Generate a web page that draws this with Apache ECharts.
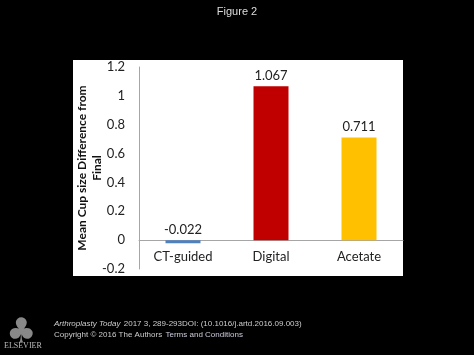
<!DOCTYPE html>
<html><head><meta charset="utf-8">
<script src="https://cdn.jsdelivr.net/npm/echarts@6/dist/echarts.min.js"></script>
<style>html,body{margin:0;padding:0;background:#000}#c{width:474px;height:355px}</style>
</head><body><div id="c"></div>
<script>
const categories = ['CT-guided', 'Digital', 'Acetate'];
const values = [-0.022, 1.067, 0.711];
const labels = ['-0.022', '1.067', '0.711'];
const barColors = ['#4F81BD', '#C00000', '#FFC000'];
const yTicks = {min: -0.2, max: 1.2, interval: 0.2};

const chart = echarts.init(document.getElementById('c'));
const font = 'Lato, "Open Sans", sans-serif';
chart.setOption({
  backgroundColor: '#000',
  animation: false,
  graphic: [
    {type: 'rect', z: -10, shape: {x: 73, y: 60, width: 330, height: 216}, style: {fill: '#fff'}},
    {type: 'text', left: 'center', top: 6, style: {text: 'Figure 2', fill: '#ddd', font: '11px "Liberation Sans", Arial, sans-serif'}},
    {type: 'text', left: 6, top: 316, style: {text: '\u2663', fill: '#888', font: '34px "DejaVu Sans"'}},
    {type: 'text', left: 4, top: 342, style: {text: 'ELSEVIER', fill: '#bbb', font: '8px "Liberation Serif", serif'}},
    {type: 'text', left: 54, top: 318, style: {
      rich: {i: {font: 'italic 8px "Liberation Sans", Arial', fill: '#ccc'}, n: {font: '8px "Liberation Sans", Arial', fill: '#ccc'}},
      text: '{i|Arthroplasty Today} {n|2017 3, 289-293DOI: (10.1016/j.artd.2016.09.003)}'}},
    {type: 'text', left: 54, top: 329, style: {
      rich: {n: {font: '8px "Liberation Sans", Arial', fill: '#ccc'}, u: {font: '8px "Liberation Sans", Arial', fill: '#ccd', textDecoration: 'underline'}},
      text: '{n|Copyright \u00a9 2016 The Authors} {u|Terms and Conditions}'}}
  ],
  grid: {left: 139, right: 71, top: 67, bottom: 86, containLabel: false},
  xAxis: {
    type: 'category', data: categories,
    axisLine: {onZero: true, lineStyle: {color: '#a6a6a6'}},
    axisTick: {show: false},
    axisLabel: {color: '#222', fontSize: 13, fontFamily: font, margin: -19},
    position: 'bottom'
  },
  yAxis: {
    type: 'value', min: yTicks.min, max: yTicks.max, interval: yTicks.interval,
    axisLine: {show: true, lineStyle: {color: '#a6a6a6'}},
    axisTick: {show: false},
    splitLine: {show: false},
    axisLabel: {color: '#222', fontSize: 13, fontFamily: font, margin: 14,
      formatter: v => { const r = Math.round(v * 10) / 10; return r === 0 ? '0' : String(r); }},
    name: 'Mean Cup size Difference from\nFinal',
    nameLocation: 'middle', nameGap: 34, nameMoveOverlap: false,
    nameTextStyle: {color: '#111', fontSize: 12, fontWeight: 'bold', fontFamily: font, lineHeight: 15, align: 'center'}
  },
  series: [{
    type: 'bar', barWidth: 35,
    data: values.map((v, i) => ({value: v, itemStyle: {color: barColors[i]}})),
    label: {show: true, position: 'top', distance: 4, color: '#222', fontSize: 13, fontFamily: font,
      formatter: p => labels[p.dataIndex]}
  }]
});
</script></body></html>
